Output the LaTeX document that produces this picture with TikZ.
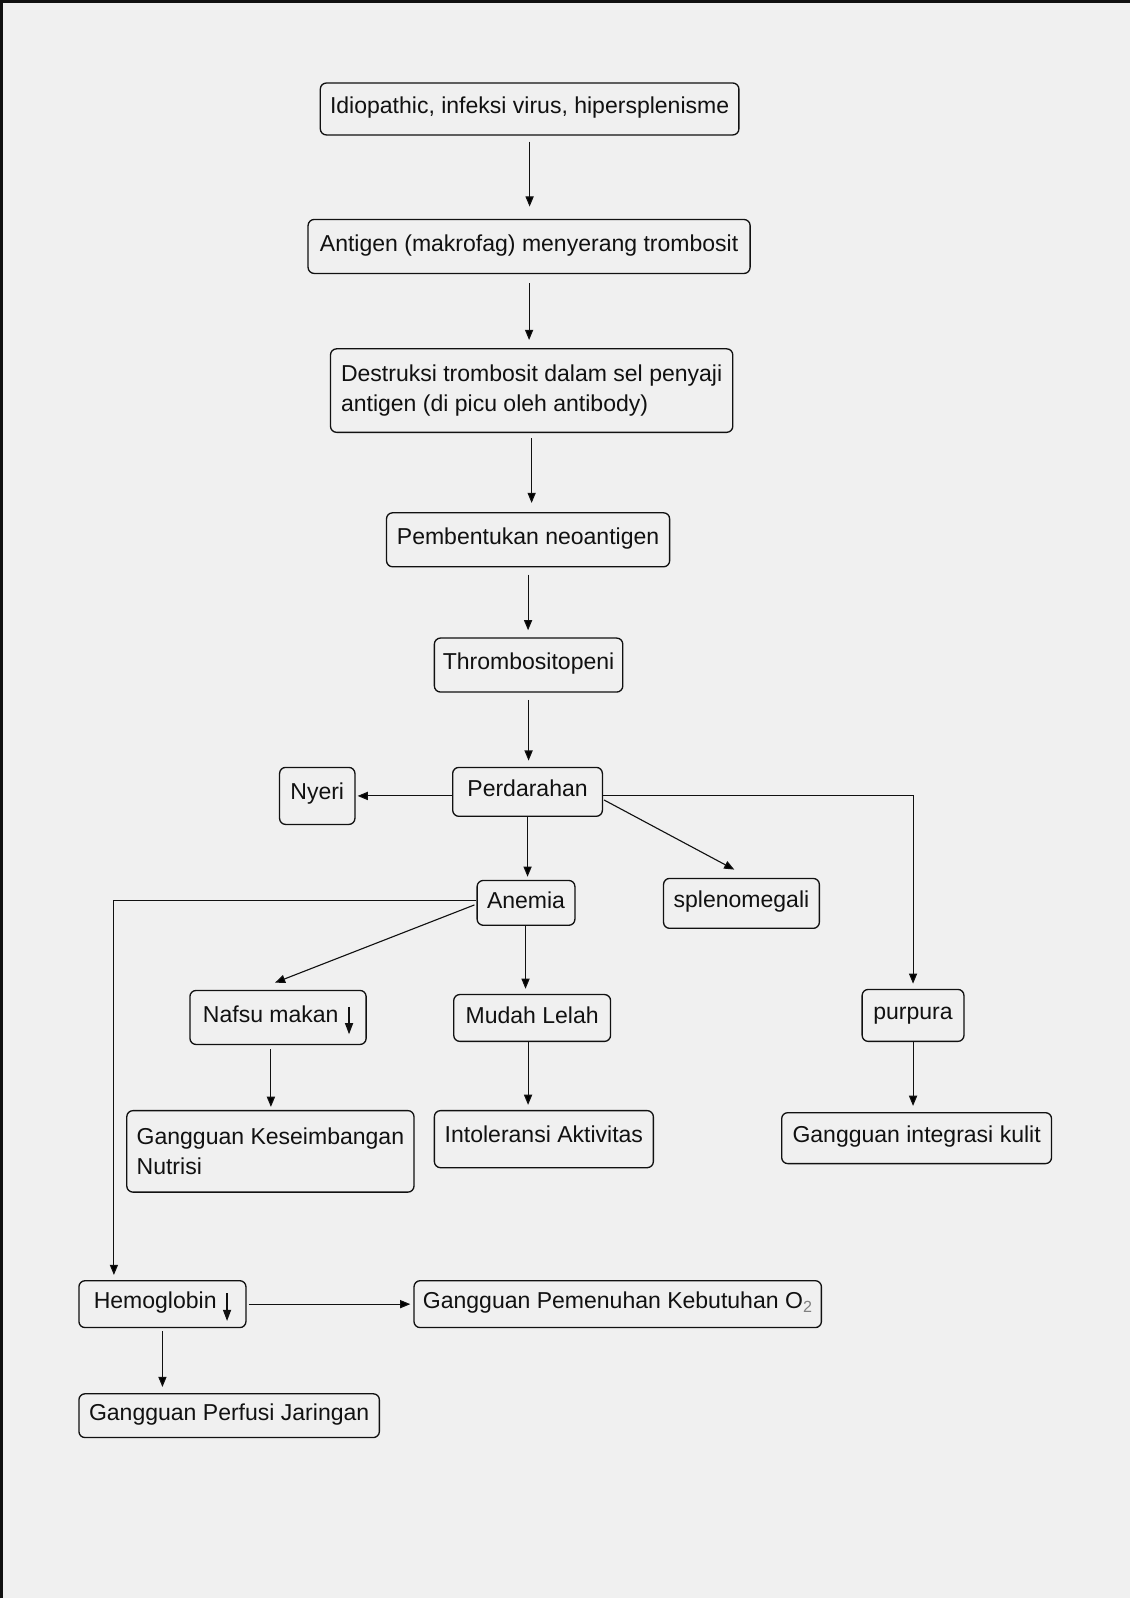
\documentclass[tikz,border=0pt]{standalone}
\usepackage{fontspec}
\setmainfont{Liberation Sans}
\usetikzlibrary{arrows.meta,calc}
\definecolor{bg}{HTML}{F0F0F0}
\definecolor{ink}{HTML}{111111}
\newcommand{\dnarrow}{\tikz[baseline=0pt]\draw[line width=1.1pt,-{Triangle[length=11pt,width=8pt]}] (0pt,15pt) -- (0pt,-12pt);}
\begin{document}
\begin{tikzpicture}[x=1pt,y=1pt,
  box/.style={draw=ink, line width=1.3pt, rounded corners=6pt, inner sep=0pt,
    font=\fontsize{22.6}{30}\selectfont, text=ink, text height=16pt, text depth=7pt},
  mbox/.style={draw=ink, line width=1.3pt, rounded corners=6pt, inner sep=0pt,
    font=\fontsize{22.6}{30}\selectfont, text=ink, align=left},
  arr/.style={draw=ink, line width=1.1pt, -{Triangle[length=10pt,width=8pt]}}]
\fill[bg] (0,0) rectangle (1108,-1568);
\draw[ink, line width=3pt] (0,-1568) -- (0,0) -- (1108,0);
\useasboundingbox (0,0) rectangle (1108,-1568);

\node[box, minimum width=411pt, minimum height=51pt] (n1) at (518.5,-105.5) {Idiopathic, infeksi virus, hipersplenisme};
\node[box, minimum width=434pt, minimum height=53pt] (n2) at (518,-240.5) {Antigen (makrofag) menyerang trombosit};
\node[mbox, minimum width=395pt, minimum height=82pt] (n3) at (520.5,-382) {Destruksi trombosit dalam sel penyaji\\antigen (di picu oleh antibody)};
\node[box, minimum width=278pt, minimum height=53pt] (n4) at (517,-528.5) {Pembentukan neoantigen};
\node[box, minimum width=185pt, minimum height=53pt] (n5) at (517.5,-651.5) {Thrombositopeni};
\node[box, minimum width=147pt, minimum height=48pt] (n6) at (516.5,-776) {Perdarahan};
\node[box, minimum width=74pt, minimum height=56pt, text depth=9pt] (n7) at (310,-780) {Nyeri};
\node[box, minimum width=96pt, minimum height=44pt, text depth=5pt] (n8) at (515,-885) {Anemia};
\node[box, minimum width=153pt, minimum height=49pt] (n9) at (726.5,-885.5) {splenomegali};
\node[box, minimum width=173pt, minimum height=53pt] (n10) at (271.5,-997.5) {Nafsu makan \dnarrow};
\node[box, minimum width=154pt, minimum height=46pt, text depth=5pt] (n11) at (521,-998) {Mudah Lelah};
\node[box, minimum width=100pt, minimum height=51pt] (n12) at (895,-995.5) {purpura};
\node[mbox, minimum width=282pt, minimum height=80pt] (n13) at (264,-1129) {Gangguan Keseimbangan\\Nutrisi};
\node[box, minimum width=215pt, minimum height=56pt, text depth=10pt] (n14) at (532.5,-1117) {Intoleransi Aktivitas};
\node[box, minimum width=265pt, minimum height=50pt] (n15) at (898.5,-1116) {Gangguan integrasi kulit};
\node[box, minimum width=164pt, minimum height=46pt] (n16) at (158,-1279) {Hemoglobin \dnarrow};
\node[box, minimum width=400pt, minimum height=46pt] (n17) at (605,-1279) {Gangguan Pemenuhan Kebutuhan O\textsubscript{\color{gray}2}};
\node[box, minimum width=295pt, minimum height=43pt, text depth=6pt] (n18) at (223.5,-1388.5) {Gangguan Perfusi Jaringan};

% main chain
\draw[arr, shorten <=6pt, shorten >=12pt] (n1.south) -- (n1.south |- n2.north);
\draw[arr, shorten <=9pt, shorten >=8pt] (n2.south) -- (n2.south |- n3.north);
\draw[arr, shorten <=5pt, shorten >=9pt] (n3.south) -- (n3.south |- n4.north);
\draw[arr, shorten <=7pt, shorten >=7pt] (n4.south) -- (n4.south |- n5.north);
\draw[arr, shorten <=7pt, shorten >=6pt] (n5.south) -- (n5.south |- n6.north);

% from Perdarahan
\draw[arr, shorten >=2pt] (n7.east -| n6.west) -- (n7.east);
\draw[arr, shorten >=3pt] (n6.south) -- (n6.south |- n8.north);
\draw[arr] ($(n6.east)+(1,-8)$) -- ($(n9.north)+(-7,8)$);
\draw[arr, shorten >=5pt] ($(n6.east)+(0,-4)$) -| (n12.north);

% from Anemia
\draw[arr, shorten >=5pt] ($(n8.west)+(0,2)$) -| ($(n16.north west)+(35,0)$);
\draw[arr] ($(n8.west)+(-2,-2)$) -- ($(n10.north)+(-3,7)$);
\draw[arr, shorten >=5pt] ($(n8.south)+(-0.5,0)$) -- ($(n8.south |- n11.north)+(-0.5,0)$);

% second level
\path ([xshift=-7pt]n10.south) coordinate (t10);
\draw[arr, shorten <=4pt, shorten >=3pt] (t10) -- (t10 |- n13.north);
\path ([xshift=-4pt]n11.south) coordinate (t11);
\draw[arr, shorten >=5pt] (t11) -- (t11 |- n14.north);
\draw[arr, shorten >=6pt] (n12.south) -- (n12.south |- n15.north);

% Hemoglobin
\draw[arr, shorten <=2pt, shorten >=3pt] (n16.east) -- (n16.east -| n17.west);
\draw[arr, shorten <=3pt, shorten >=6pt] (n16.south) -- (n16.south |- n18.north);
\end{tikzpicture}
\end{document}
